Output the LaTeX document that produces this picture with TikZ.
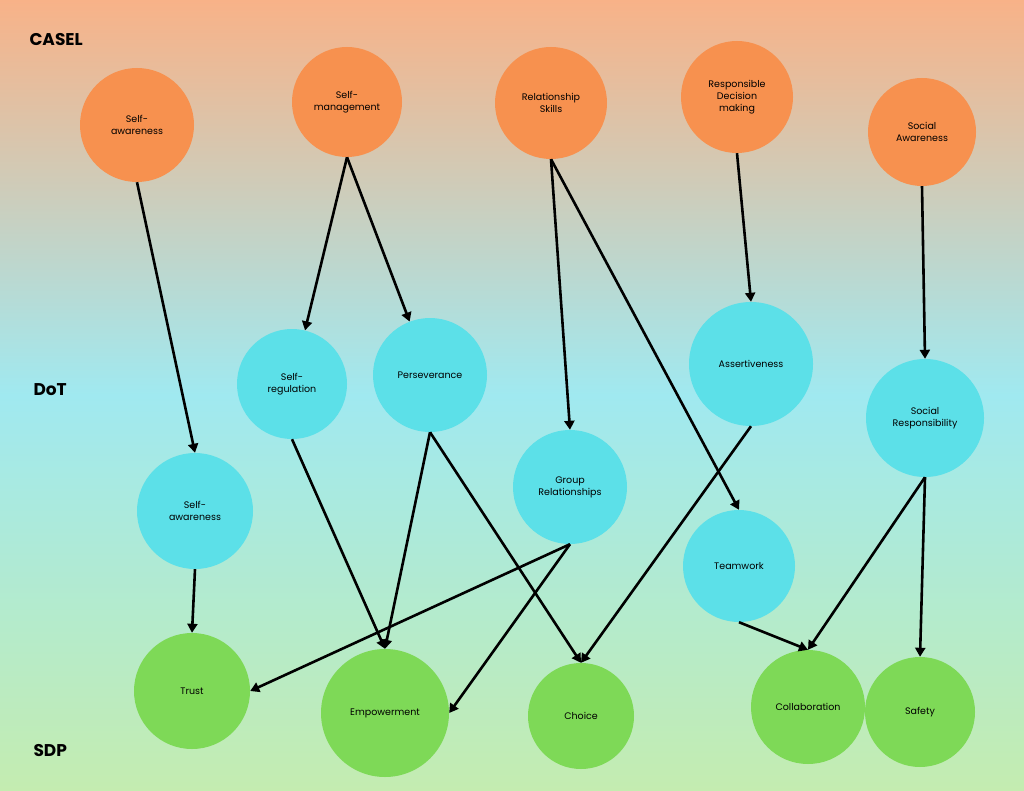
\documentclass[tikz,border=0pt]{standalone}
\usepackage{fontspec}
\setmainfont{Poppins}
\usetikzlibrary{arrows.meta}
\definecolor{org}{HTML}{F7914F}
\definecolor{cyn}{HTML}{5CE0E8}
\definecolor{grn}{HTML}{7ED957}
\begin{document}
\begin{tikzpicture}[x=1pt,y=-1pt,
  c/.style={circle,draw=none,inner sep=0pt,align=center,font=\fontsize{9.5}{12}\selectfont},
  o/.style={c,fill=org},cy/.style={c,fill=cyn},g/.style={c,fill=grn},
  a/.style={line width=2.6pt,-{Triangle[length=9pt,width=10pt]}},
  lab/.style={font=\bfseries\fontsize{17}{20}\selectfont,anchor=west}]
\useasboundingbox (0,0) rectangle (1024,791);
\shade[top color={rgb,255:red,248;green,178;blue,136},bottom color={rgb,255:red,160;green,233;blue,240}] (0,0) rectangle (1024,395);
\shade[top color={rgb,255:red,160;green,233;blue,240},bottom color={rgb,255:red,196;green,236;blue,176}] (0,395) rectangle (1024,791);
\node[lab] (l1) at (26,40) {CASEL};
\node[lab] (l2) at (30,390) {DoT};
\node[lab] (l3) at (30,750) {SDP};
\node[o,minimum size=114pt] (o1) at (137,125) {Self-\\awareness};
\node[o,minimum size=110pt] (o2) at (347,102) {Self-\\management};
\node[o,minimum size=112pt] (o3) at (551,103) {Relationship\\Skills};
\node[o,minimum size=112pt] (o4) at (737,97) {Responsible\\Decision\\making};
\node[o,minimum size=108pt] (o5) at (922,132) {Social\\Awareness};
\node[cy,minimum size=110pt] (c1) at (292,384) {Self-\\regulation};
\node[cy,minimum size=114pt] (c2) at (430,375) {Perseverance};
\node[cy,minimum size=124pt] (c3) at (751,364) {Assertiveness};
\node[cy,minimum size=118pt] (c4) at (925,418) {Social\\Responsibility};
\node[cy,minimum size=116pt] (c5) at (195,511) {Self-\\awareness};
\node[cy,minimum size=114pt] (c6) at (570,487) {Group\\Relationships};
\node[cy,minimum size=112pt] (c7) at (739,566) {Teamwork};
\node[g,minimum size=116pt] (g1) at (192,691) {Trust};
\node[g,minimum size=128pt] (g2) at (385,713) {Empowerment};
\node[g,minimum size=106pt] (g3) at (581,716) {Choice};
\node[g,minimum size=114pt] (g4) at (808,707) {Collaboration};
\node[g,minimum size=110pt] (g5) at (920,712) {Safety};
\draw[a] (o1.south) -- (c5.north);
\draw[a] (o2.south) -- (c1);
\draw[a] (o2.south) -- (c2);
\draw[a] (o3.south) -- (c6.north);
\draw[a] (o3.south) -- (c7.north);
\draw[a] (o4.south) -- (c3.north);
\draw[a] (o5.south) -- (c4.north);
\draw[a] (c5.south) -- (g1.north);
\draw[a] (c1.south) -- (g2.north);
\draw[a] (c2.south) -- (g2.north);
\draw[a] (c2.south) -- (g3.north);
\draw[a] (c6.south) -- (g1.east);
\draw[a] (c6.south) -- (g2.east);
\draw[a] (c3.south) -- (g3.north);
\draw[a] (c7.south) -- (g4.north);
\draw[a] (c4.south) -- (g4.north);
\draw[a] (c4.south) -- (g5.north);
\end{tikzpicture}
\end{document}
